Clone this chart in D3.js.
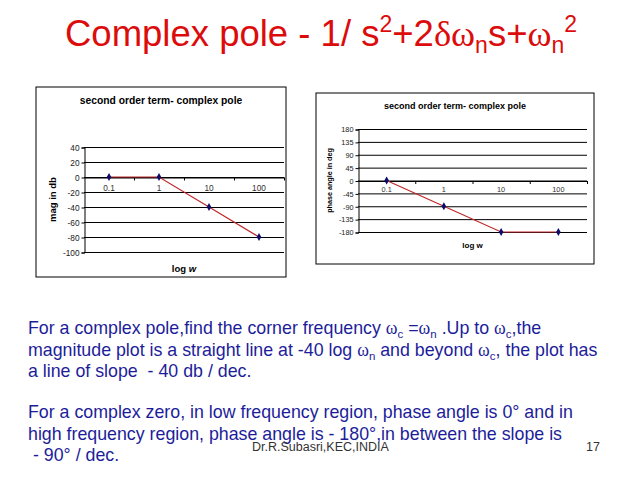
<!DOCTYPE html>
<html>
<head>
<meta charset="utf-8">
<script src="https://cdn.jsdelivr.net/npm/d3@7"></script>
<style>
  body { margin: 0; background: #ffffff; }
  svg { display: block; font-family: "Liberation Sans", Arial, sans-serif; }
</style>
</head>
<body>
<svg id="slide" width="638" height="479"></svg>
<script>
// Chart data
let categories = ['0.1', '1', '10', '100'];
let magValues = [0, 0, -40, -80];
let phaseValues = [0, -90, -180, -180];
let magTicks = [40, 20, 0, -20, -40, -60, -80, -100];
let phaseTicks = [180, 135, 90, 45, 0, -45, -90, -135, -180];

let svg = d3.select('#slide');

// Writes a line of text made of normal / sub / sup / symbol pieces
function richText(x, y, parts, opts) {
    let t = svg.append('text')
        .attr('x', x)
        .attr('y', y)
        .attr('fill', opts.color)
        .style('font-size', opts.size + 'px');
    let offset = 0;
    parts.forEach((p) => {
        let kind = p[1] || '';
        let target = kind === 'sub' ? opts.subDy : kind === 'sup' ? opts.supDy : 0;
        let span = t.append('tspan')
            .attr('dy', target - offset)
            .text(p[0]);
        offset = target;
        if (kind === 'sub' || kind === 'sup') span.style('font-size', opts.smallSize + 'px');
        if (kind === 'sym') span.style('font-family', '"Liberation Serif", serif');
    });
    return t;
}

// Draws one Excel-like chart inside a box
function drawChart(cfg) {
    let g = svg.append('g');

    g.append('rect')
        .attr('x', cfg.box[0])
        .attr('y', cfg.box[1])
        .attr('width', cfg.box[2] - cfg.box[0])
        .attr('height', cfg.box[3] - cfg.box[1])
        .attr('fill', '#ffffff')
        .attr('stroke', '#000000')
        .attr('stroke-width', 1);

    let xScale = d3.scaleBand()
        .domain(categories)
        .range([cfg.plot[0], cfg.plot[2]])
        .padding(0);

    let yScale = d3.scaleLinear()
        .domain([d3.min(cfg.ticks), d3.max(cfg.ticks)])
        .range([cfg.plot[3], cfg.plot[1]]);

    // gridlines
    g.append('g')
        .selectAll('line')
        .data(cfg.ticks)
        .enter()
        .append('line')
        .attr('x1', cfg.plot[0])
        .attr('x2', cfg.plot[2])
        .attr('y1', (d) => yScale(d) + 0.5)
        .attr('y2', (d) => yScale(d) + 0.5)
        .attr('stroke', '#000000')
        .attr('stroke-width', 1);

    // y axis
    let yAxis = d3.axisLeft(yScale)
        .tickValues(cfg.ticks)
        .tickFormat((d) => String(d))
        .tickSize(3)
        .tickPadding(2);
    let yg = g.append('g')
        .attr('transform', `translate(${cfg.plot[0] + 0.5}, 0.5)`)
        .call(yAxis);
    yg.selectAll('path, line').attr('stroke', '#000000');
    yg.selectAll('text')
        .style('font-size', cfg.tickSize + 'px')
        .style('font-family', '"Liberation Sans", Arial, sans-serif')
        .attr('fill', '#1a1a1a');

    // x axis sitting on zero
    let xAxis = d3.axisBottom(xScale)
        .tickSize(0)
        .tickPadding(cfg.xLabelPad);
    let xg = g.append('g')
        .attr('transform', `translate(0, ${yScale(0) + 0.5})`)
        .call(xAxis);
    xg.select('.domain').attr('stroke', '#000000');
    xg.selectAll('text')
        .style('font-size', cfg.tickSize + 'px')
        .style('font-family', '"Liberation Sans", Arial, sans-serif')
        .attr('fill', '#333333');

    // category boundary tick marks
    xg.selectAll('.boundary')
        .data(categories)
        .enter()
        .append('line')
        .attr('class', 'boundary')
        .attr('x1', (d) => xScale(d) + xScale.bandwidth() + 0.5)
        .attr('x2', (d) => xScale(d) + xScale.bandwidth() + 0.5)
        .attr('y1', 0)
        .attr('y2', 3)
        .attr('stroke', '#000000');

    // series line
    let line = d3.line()
        .x((d, i) => xScale(categories[i]) + xScale.bandwidth() / 2)
        .y((d) => yScale(d));
    g.append('path')
        .datum(cfg.values)
        .attr('d', line)
        .attr('fill', 'none')
        .attr('stroke', '#c0282a')
        .attr('stroke-width', 1.2);

    // diamond markers
    g.selectAll('.marker')
        .data(cfg.values)
        .enter()
        .append('path')
        .attr('class', 'marker')
        .attr('d', d3.symbol().type(d3.symbolDiamond).size(18))
        .attr('transform', (d, i) => `translate(${xScale(categories[i]) + xScale.bandwidth() / 2}, ${yScale(d)})`)
        .attr('fill', '#0b0b6e');

    // chart title
    g.append('text')
        .attr('x', (cfg.box[0] + cfg.box[2]) / 2)
        .attr('y', cfg.titleY)
        .attr('text-anchor', 'middle')
        .style('font-size', cfg.titleSize + 'px')
        .style('font-weight', 'bold')
        .text('second order term- complex pole');

    // y axis title
    g.append('text')
        .attr('transform', `translate(${cfg.yTitleX}, ${(cfg.plot[1] + cfg.plot[3]) / 2}) rotate(-90)`)
        .attr('text-anchor', 'middle')
        .style('font-size', cfg.yTitleSize + 'px')
        .style('font-weight', 'bold')
        .text(cfg.yTitle);

    // x axis title
    let xt = g.append('text')
        .attr('x', (cfg.plot[0] + cfg.plot[2]) / 2)
        .attr('y', cfg.xTitleY)
        .attr('text-anchor', 'middle')
        .style('font-size', cfg.xTitleSize + 'px')
        .style('font-weight', 'bold');
    xt.append('tspan').text('log ');
    xt.append('tspan').style('font-style', cfg.italicW ? 'italic' : 'normal').text('w');
}

// Slide heading
richText(65, 46, [
    ['Complex pole - 1/ s'], ['2', 'sup'], ['+2'], ['δω', 'sym'], ['n', 'sub'],
    ['s+'], ['ω', 'sym'], ['n', 'sub'], ['2', 'sup']
], { color: '#dc0c0c', size: 36.5, smallSize: 23, subDy: 7, supDy: -14 });

drawChart({
    box: [36, 87, 286, 277],
    plot: [84, 147, 284, 252],
    ticks: magTicks,
    values: magValues,
    titleY: 104,
    titleSize: 10.3,
    tickSize: 8.3,
    yTitleSize: 9.5,
    xTitleSize: 9.5,
    xLabelPad: 8,
    yTitle: 'mag in db',
    yTitleX: 56,
    xTitleY: 272,
    italicW: true
});

drawChart({
    box: [316, 93, 594, 264],
    plot: [358, 129, 587, 232],
    ticks: phaseTicks,
    values: phaseValues,
    titleY: 109,
    titleSize: 9,
    tickSize: 7.3,
    yTitleSize: 7.2,
    xTitleSize: 8,
    xLabelPad: 6,
    yTitle: 'phase angle in deg',
    yTitleX: 332,
    xTitleY: 248,
    italicW: false
});

// Body text
let bodyOpts = { color: '#1d1d9a', size: 17.8, smallSize: 11.5, subDy: 4, supDy: -6 };
let bodyLines = [
    [334, [['For a complex pole,find the corner frequency '], ['ω', 'sym'], ['c', 'sub'], [' ='], ['ω', 'sym'], ['n', 'sub'], [' .Up to '], ['ω', 'sym'], ['c', 'sub'], [',the']]],
    [355.5, [['magnitude plot is a straight line at -40 log '], ['ω', 'sym'], ['n', 'sub'], [' and beyond '], ['ω', 'sym'], ['c', 'sub'], [', the plot has']]],
    [377, [['a line of slope  - 40 db / dec.']]],
    [418, [['For a complex zero, in low frequency region, phase angle is 0° and in']]],
    [440, [['high frequency region, phase angle is - 180°,in between the slope is']]],
    [461, [[' - 90° / dec.']]]
];
bodyLines.forEach((l) => {
    richText(28, l[0], l[1], bodyOpts).attr('xml:space', 'preserve');
});

// Footer
svg.append('text')
    .attr('x', 252)
    .attr('y', 451)
    .attr('fill', '#333333')
    .style('font-size', '12.5px')
    .text('Dr.R.Subasri,KEC,INDIA');
svg.append('text')
    .attr('x', 600)
    .attr('y', 451)
    .attr('text-anchor', 'end')
    .attr('fill', '#333333')
    .style('font-size', '12.5px')
    .text('17');
</script>
</body>
</html>
